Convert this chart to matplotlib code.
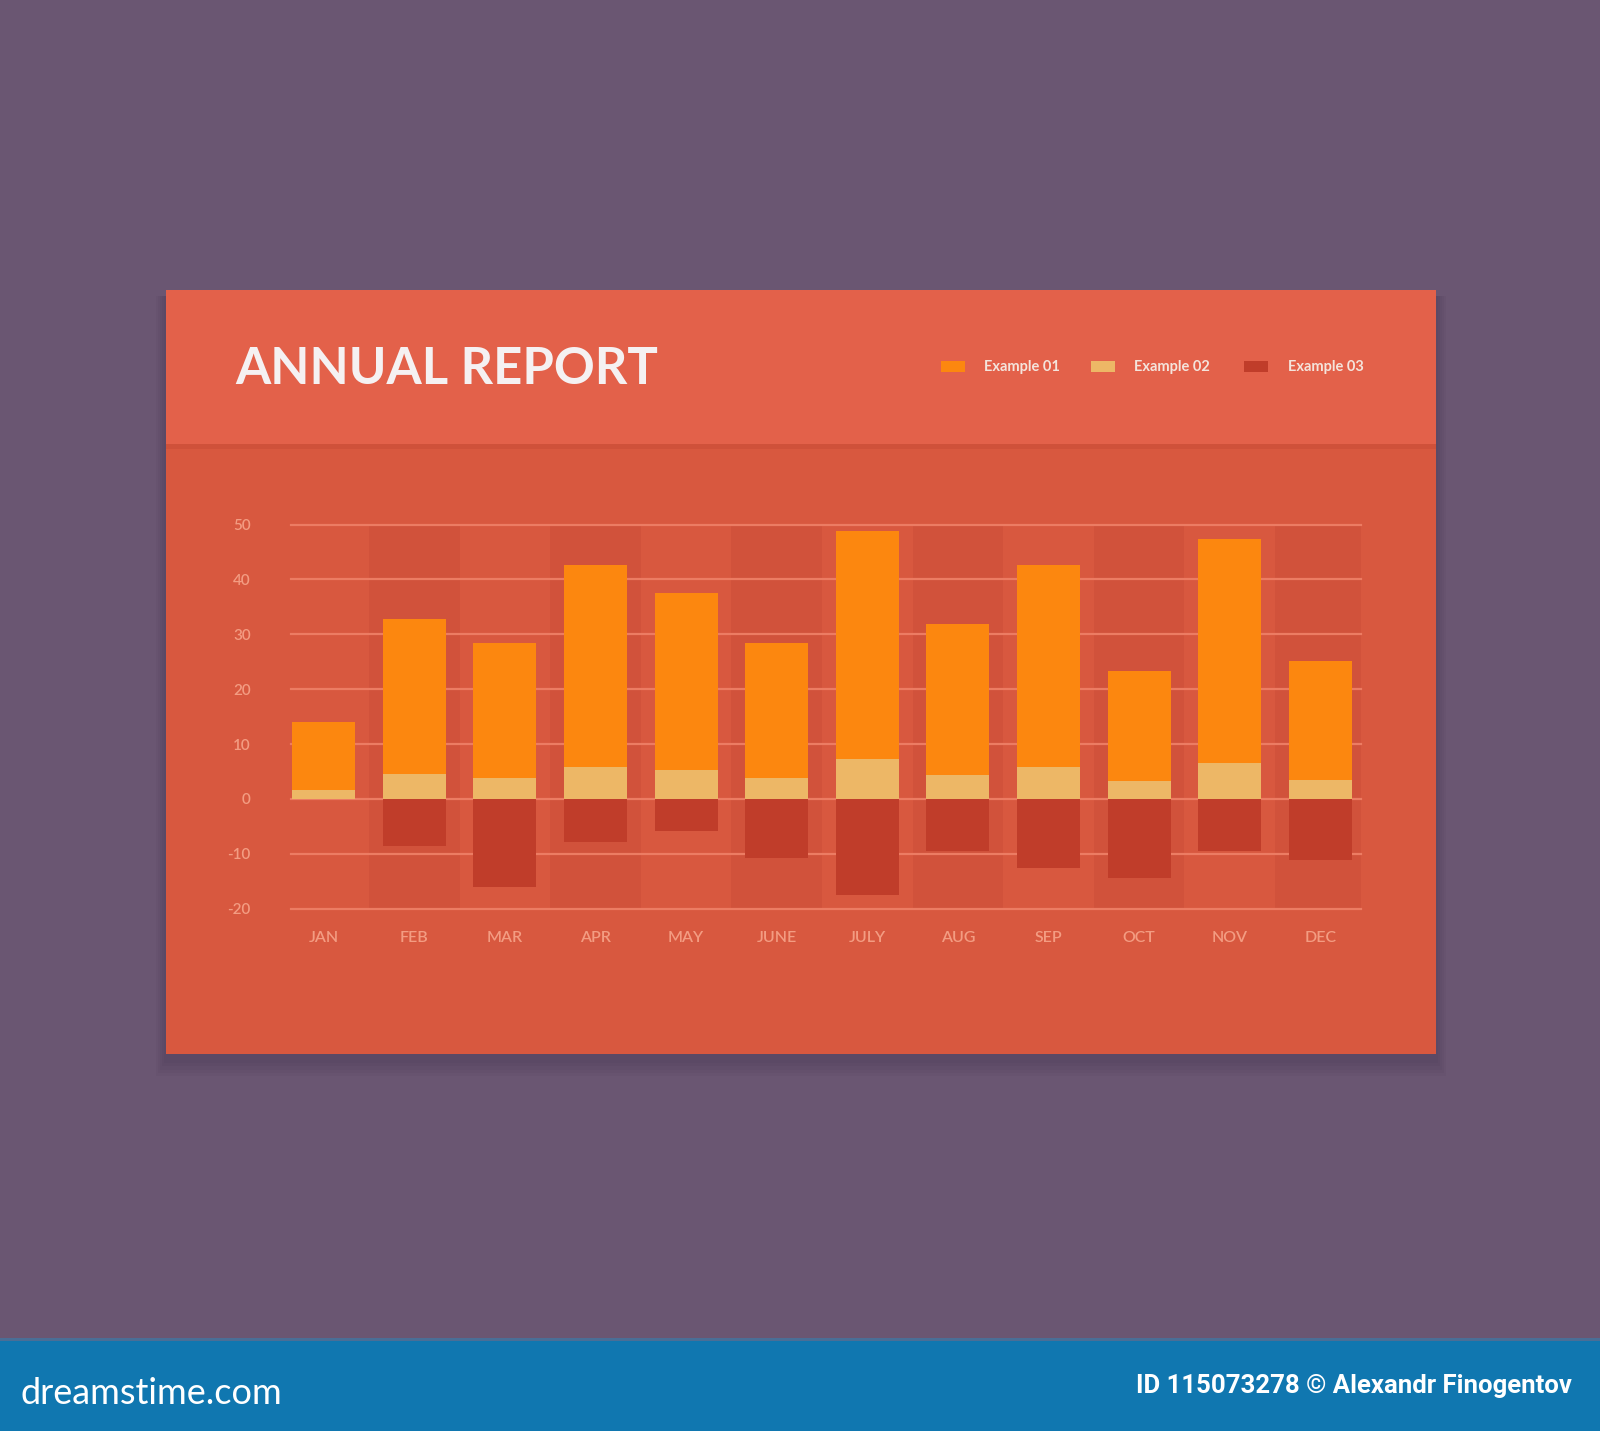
import matplotlib

matplotlib.use("Agg")
import matplotlib.pyplot as plt
from matplotlib.patches import Rectangle

# data
months = ["JAN", "FEB", "MAR", "APR", "MAY", "JUNE", "JULY", "AUG", "SEP", "OCT", "NOV", "DEC"]
example_01 = [12.4, 28.3, 24.5, 36.8, 32.4, 24.5, 41.6, 27.4, 36.8, 20.2, 40.9, 21.6]
example_02 = [1.7, 4.5, 3.9, 5.9, 5.2, 3.9, 7.2, 4.4, 5.9, 3.2, 6.5, 3.5]
example_03 = [0.0, -8.5, -16.0, -7.9, -5.9, -10.7, -17.5, -9.5, -12.6, -14.3, -9.5, -11.1]
y_ticks = [-20, -10, 0, 10, 20, 30, 40, 50]
series_names = ["Example 01", "Example 02", "Example 03"]

BG = "#6A5672"
HEADER = "#E3614A"
BODY = "#D8583F"
BAND = "#D1523B"
GRID = "#EC7C63"
TICK = "#F39C82"
ORANGE = "#FC870F"
SAND = "#EDB766"
RED = "#C03D2A"
FOOTER = "#1077B0"
LIGHT = "#F4E4DC"

W, H = 1600, 1431
fig = plt.figure(figsize=(W / 100, H / 100), dpi=100)
fig.patch.set_facecolor(BG)

# background layer in pixel coordinates
bg = fig.add_axes([0, 0, 1, 1])
bg.set_xlim(0, W)
bg.set_ylim(H, 0)
bg.axis("off")

# soft shadow under the card
for i, a in enumerate([0.05, 0.05, 0.05, 0.06, 0.06]):
    g = 4 * (5 - i)
    bg.add_patch(Rectangle((166 - g * 0.5, 296), 1270 + g, 764 + g * 0.8,
                           facecolor="#3A2A45", alpha=a, lw=0))

card_x0, card_x1 = 166, 1436
card_y0, card_y1 = 290, 1054
header_y1 = 448
bg.add_patch(Rectangle((card_x0, card_y0), card_x1 - card_x0, card_y1 - card_y0,
                       facecolor=BODY, lw=0))
bg.add_patch(Rectangle((card_x0, card_y0), card_x1 - card_x0, header_y1 - card_y0,
                       facecolor=HEADER, lw=0))
bg.add_patch(Rectangle((card_x0, header_y1 - 4), card_x1 - card_x0, 5,
                       facecolor="#CF513A", lw=0))

bg.text(235, 369, "ANNUAL REPORT", fontsize=36.5, fontweight="bold", family="Lato",
        color="#F5F1F2", va="center", ha="left")

# legend
colors = [ORANGE, SAND, RED]
swatch_x = [941, 1091, 1244]
text_x = [984, 1134, 1288]
for name, c, sx, tx in zip(series_names, colors, swatch_x, text_x):
    bg.add_patch(Rectangle((sx, 361), 24, 11, facecolor=c, lw=0))
    bg.text(tx, 367, name, fontsize=10.5, fontweight="bold", family="Lato",
            color=LIGHT, va="center", ha="left")

# footer
bg.add_patch(Rectangle((0, 1340), W, H - 1340, facecolor=FOOTER, lw=0))
bg.add_patch(Rectangle((0, 1338), W, 3, facecolor="#4A6E96", lw=0))
bg.text(20, 1393, "dreamstime.com", fontsize=26, family="Lato", color="white",
        va="center", ha="left")
bg.text(1572, 1386, "ID 115073278 \u00a9 Alexandr Finogentov", fontsize=18.5,
        fontweight="bold", family="Roboto", color="white", va="center", ha="right")

# chart axes
px_left, px_right = 291, 1361
px_top, px_bottom = 524.5, 908.8
ax = fig.add_axes([px_left / W, 1 - px_bottom / H, (px_right - px_left) / W,
                   (px_bottom - px_top) / H])
ax.patch.set_alpha(0)
x = list(range(len(months)))
ax.set_xlim(-0.36, 11.45)
ax.set_ylim(-20, 50)

for i in x:
    if i % 2 == 1:
        ax.axvspan(i - 0.5, i + 0.5, color=BAND, lw=0, zorder=0)

for t in y_ticks:
    ax.axhline(t, color=GRID, lw=1.6, zorder=1, clip_on=False)

bw = 0.695
ax.bar(x, example_02, width=bw, color=SAND, zorder=3)
ax.bar(x, example_01, width=bw, bottom=example_02, color=ORANGE, zorder=3)
ax.bar(x, example_03, width=bw, color=RED, zorder=3)

for s in ax.spines.values():
    s.set_visible(False)
ax.set_yticks(y_ticks)
ax.set_yticklabels([str(t) for t in y_ticks], family="Lato", fontsize=11,
                   fontweight="semibold", color=TICK)
ax.set_xticks(x)
ax.set_xticklabels(months, family="Lato", fontsize=11.5, fontweight="semibold", color=TICK)
ax.tick_params(axis="y", length=0, pad=29)
ax.tick_params(axis="x", length=0, pad=16)

fig.savefig("out.png", dpi=100, facecolor=BG)
